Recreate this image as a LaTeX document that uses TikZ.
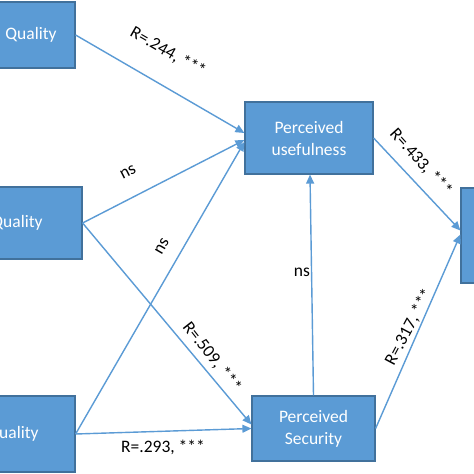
\documentclass[tikz,border=0pt]{standalone}
\usepackage{fontspec}
\setmainfont{Carlito}
\usetikzlibrary{arrows.meta}
\definecolor{boxfill}{HTML}{5B9BD5}
\definecolor{boxline}{HTML}{41719C}
\definecolor{arrowc}{HTML}{5B9BD5}
\tikzset{
  box/.style={draw=boxline, line width=1.2pt, fill=boxfill, text=white, inner sep=0pt,
    font=\fontsize{17.5}{22}\selectfont, align=center},
  conn/.style={draw=arrowc, line width=1.4pt, -{Triangle[length=9pt,width=8pt]}},
  lab/.style={font=\fontsize{17.5}{20}\selectfont, text=black, inner sep=0pt}
}
\begin{document}
\begin{tikzpicture}[x=1pt,y=-1pt]
\useasboundingbox (0,0) rectangle (474,474);
\fill[white] (0,0) rectangle (474,474);
\clip (0,0) rectangle (474,474);
\node[box, minimum width=88pt, minimum height=66pt] (b1) at (31,35) {\raisebox{3pt}{Quality}};
\node[box, minimum width=130pt, minimum height=72pt] (b2) at (17,223) {\raisebox{3pt}{Quality}};
\node[box, minimum width=124pt, minimum height=76pt] (b3) at (13,434) {\raisebox{4pt}{Quality}};
\node[box, minimum width=128pt, minimum height=72pt] (pu) at (309,138) {Perceived\\usefulness};
\node[box, minimum width=123pt, minimum height=65pt] (ps) at (313.5,428.5) {Perceived\\Security};
\node[box, minimum width=98pt, minimum height=95pt] (rb) at (510,235.5) {};
\draw[conn] (b1.east) -- ([yshift=5pt]pu.west);
\draw[conn] (b2.east) -- ([yshift=-2pt]pu.west);
\draw[conn] (b3.east) -- ([yshift=-4pt]pu.west);
\draw[conn] (b2.east) -- ([yshift=4pt]ps.west);
\draw[conn] (b3.east) -- (ps.west);
\draw[conn] (ps.north) -- ([xshift=1pt]pu.south);
\draw[conn] (pu.east) -- ([yshift=5pt]rb.west);
\draw[conn] (ps.east) -- ([yshift=1pt]rb.west);
\node[lab, rotate=-30] (l1) at (168,52) {R=.244, ***};
\node[lab, rotate=27] (l2) at (128,172) {ns};
\node[lab, rotate=60] (l3) at (162,246) {ns};
\node[lab, rotate=-52] (l4) at (212,357) {R=.509, ***};
\node[lab] (l5) at (163,447) {R=.293, ***};
\node[lab] (l6) at (302,272) {ns};
\node[lab, rotate=-48] (l7) at (421,162) {R=.433, ***};
\node[lab, rotate=62] (l8) at (409,327) {R=.317, ***};
\end{tikzpicture}
\end{document}
